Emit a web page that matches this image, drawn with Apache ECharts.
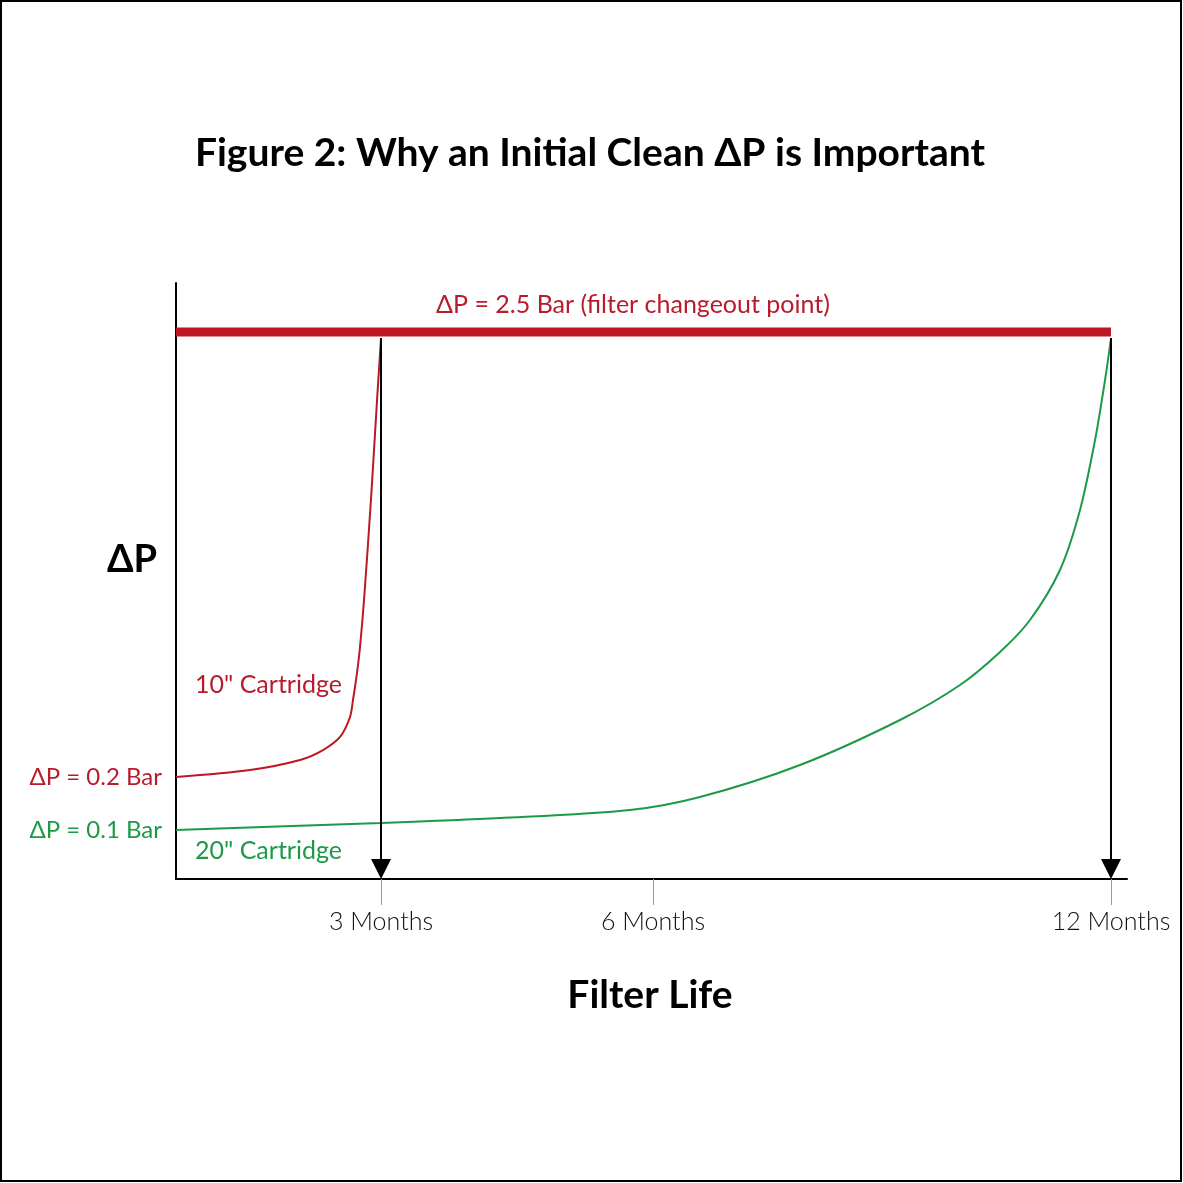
<!DOCTYPE html>
<html>
<head>
<meta charset="utf-8">
<script src="https://cdn.jsdelivr.net/npm/echarts@6/dist/echarts.min.js"></script>
<style>html,body{margin:0;padding:0;background:#fff}#c{width:1183px;height:1183px}</style>
</head>
<body>
<div id="c"></div>
<script>
// Schematic units: x and y are 0..100 across the plot area (the figure is not to scale)
const tickLabels = ['3 Months', '6 Months', '12 Months'];
const tickPositions = [21.56, 50.16, 98.32];
const changeoutLevel = 91.78;   // ΔP = 2.5 Bar (filter changeout point)
const startLabels = ['ΔP = 0.2 Bar', 'ΔP = 0.1 Bar'];
const startLevels = [17.11, 8.22];
const cartridge10 = [
  [0, 17.11], [7.78, 18.29], [13.04, 19.97], [15.46, 21.64], [17.25, 23.83],
  [18.30, 27.18], [18.61, 30.03], [19.03, 34.56], [19.35, 38.93], [19.77, 46.81],
  [20.50, 63.59], [21.14, 80.37], [21.56, 90.77]
];
const cartridge20 = [
  [0, 8.22], [21.56, 9.40], [34.07, 10.23], [47.74, 11.58], [55.10, 13.76],
  [65.62, 19.13], [76.13, 26.68], [82.44, 32.55], [86.65, 38.09], [89.80, 43.46],
  [92.95, 51.85], [95.06, 61.91], [96.64, 73.66], [97.69, 83.72], [98.32, 90.77]
];
const arrowTop = 90.77;
const arrowBottom = 1.68;

const RED = '#bd1724';
const RED_TXT = '#b81c2c';
const GREEN = '#1c9a48';
const FONT = 'Lato';

const chart = echarts.init(document.getElementById('c'), null, {renderer: 'canvas'});
chart.setOption({
  backgroundColor: '#fff',
  animation: false,
  grid: {left: 176, right: 56, top: 283, bottom: 304, containLabel: false},
  xAxis: {
    type: 'value', min: 0, max: 100,
    axisLine: {show: true, lineStyle: {color: '#000', width: 2}},
    splitLine: {show: false},
    axisTick: {show: true, customValues: tickPositions, length: 26, lineStyle: {color: '#9a9a9a', width: 1}},
    axisLabel: {
      show: true, customValues: tickPositions, margin: 30,
      fontFamily: FONT, fontSize: 25, fontWeight: 300, color: '#111',
      formatter: function (v) {
        let best = 0, d = 1e9;
        tickPositions.forEach((p, i) => { if (Math.abs(p - v) < d) { d = Math.abs(p - v); best = i; } });
        return tickLabels[best];
      }
    }
  },
  yAxis: {
    type: 'value', min: 0, max: 100,
    axisLine: {show: true, lineStyle: {color: '#000', width: 2}},
    splitLine: {show: false},
    axisTick: {show: false},
    axisLabel: {
      show: true, customValues: startLevels, margin: 14,
      fontFamily: FONT, fontSize: 24,
      formatter: function (v) {
        const i = Math.abs(v - startLevels[0]) < Math.abs(v - startLevels[1]) ? 0 : 1;
        return '{' + (i === 0 ? 'r' : 'g') + '|' + startLabels[i] + '}';
      },
      rich: {
        r: {color: RED_TXT, fontFamily: FONT, fontSize: 24},
        g: {color: GREEN, fontFamily: FONT, fontSize: 24}
      }
    }
  },
  series: [
    {
      type: 'line', name: '10"Cartridge', data: cartridge10, smooth: 0.3,
      symbol: 'none', lineStyle: {color: RED, width: 2}, z: 3
    },
    {
      type: 'line', name: '20"Cartridge', data: cartridge20, smooth: 0.3,
      symbol: 'none', lineStyle: {color: GREEN, width: 2}, z: 3
    },
    {
      type: 'line', name: 'changeout', data: [[0, changeoutLevel], [tickPositions[2], changeoutLevel]],
      symbol: 'none', lineStyle: {color: RED, width: 9, cap: 'butt'}, z: 5,
      markLine: {
        silent: true, symbol: ['none', 'triangle'], symbolSize: 20,
        label: {show: false},
        lineStyle: {color: '#000', width: 2, type: 'solid'},
        itemStyle: {color: '#000'},
        data: [
          [{coord: [tickPositions[0], arrowTop]}, {coord: [tickPositions[0], arrowBottom]}],
          [{coord: [tickPositions[2], arrowTop]}, {coord: [tickPositions[2], arrowBottom]}]
        ]
      }
    }
  ],
  graphic: [
    {type: 'rect', shape: {x: 1, y: 1, width: 1180, height: 1180}, style: {fill: 'none', stroke: '#000', lineWidth: 2}, z: 100},
    {type: 'text', x: 590, y: 153, style: {text: 'Figure 2: Why an Initial Clean ΔP is Important', fontFamily: FONT, fontWeight: 'bold', fontSize: 39, fill: '#000', textAlign: 'center', textVerticalAlign: 'middle'}},
    {type: 'text', x: 157, y: 560, style: {text: 'ΔP', fontFamily: FONT, fontWeight: 'bold', fontSize: 38, fill: '#000', textAlign: 'right', textVerticalAlign: 'middle'}},
    {type: 'text', x: 650, y: 995, style: {text: 'Filter Life', fontFamily: FONT, fontWeight: 'bold', fontSize: 39, fill: '#000', textAlign: 'center', textVerticalAlign: 'middle'}},
    {type: 'text', x: 633, y: 305, style: {text: 'ΔP = 2.5 Bar (filter changeout point)', fontFamily: FONT, fontSize: 25, fill: RED_TXT, textAlign: 'center', textVerticalAlign: 'middle'}},
    {type: 'text', x: 195, y: 685, style: {text: '10" Cartridge', fontFamily: FONT, fontSize: 25, fill: RED_TXT, textAlign: 'left', textVerticalAlign: 'middle'}},
    {type: 'text', x: 195, y: 851, style: {text: '20" Cartridge', fontFamily: FONT, fontSize: 25, fill: GREEN, textAlign: 'left', textVerticalAlign: 'middle'}}
  ]
});
</script>
</body>
</html>
